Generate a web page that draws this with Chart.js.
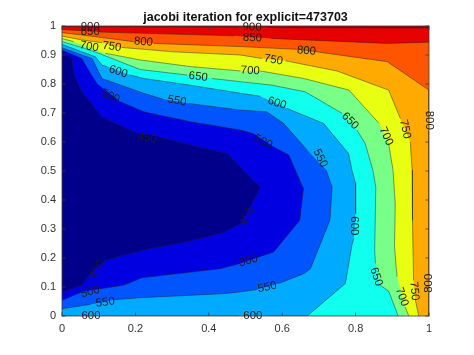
<!DOCTYPE html>
<html>
<head>
<meta charset="utf-8">
<title>jacobi iteration</title>
<script src="https://cdn.jsdelivr.net/npm/chart.js@4/dist/chart.umd.min.js"></script>
<style>
html, body { margin: 0; padding: 0; background: #fff; }
canvas { display: block; }
</style>
</head>
<body>
<canvas id="contourChart" width="474" height="355"></canvas>
<script>
// contour lines as [x, y], null = gap where the label sits
var contour450 = [[0,.906],[.027,.888],[.032,.837],[.054,.773],[.109,.685],[.205,.630],null,[.259,.620],[.331,.595],[.45,.56],[.486,.514],[.54,.443],[.518,.388],null,[.486,.319],[.468,.307],[.44,.288],[.35,.259],[.218,.227],[.114,.19],null,[.077,.146],[.054,.106],[0,.083]];
var contour500 = [[0,.917],[.054,.888],[.077,.838],[.095,.802],null,[.159,.739],[.223,.704],[.35,.67],[.486,.641],[.522,.629],null,[.577,.583],[.618,.555],[.636,.503],[.658,.44],[.648,.33],[.577,.221],[.531,.201],null,[.486,.181],[.431,.163],[.218,.132],[.168,.106],[.104,.094],null,[.054,.083],[0,.054]];
var contour550 = [[0,.925],[.054,.9],[.082,.888],[.109,.819],[.223,.768],[.277,.747],null,[.345,.733],[.486,.71],[.558,.704],[.604,.664],[.668,.572],null,[.72,.503],[.736,.445],[.73,.33],[.677,.163],[.659,.146],[.59,.112],null,[.531,.091],[.486,.083],[.44,.077],[.213,.063],[.141,.056],null,[.077,.04],[0,.025]];
var contour600 = [[0,.937],[.054,.911],[.091,.894],[.109,.865],[.123,.86],null,[.186,.831],[.223,.819],[.35,.796],[.486,.768],[.54,.758],null,[.613,.716],[.713,.664],[.781,.56],[.79,.503],[.8,.457],[.8,.353],null,[.795,.267],[.79,.244],[.772,.112],[.668,0],[.56,0],null,[.48,0],[.11,0],null,[.045,0],[0,0]];
var contour650 = [[0,.946],[.054,.926],[.1,.906],[.213,.85],[.341,.831],null,[.409,.819],[.486,.808],[.572,.796],[.663,.773],[.763,.699],null,[.804,.641],[.826,.595],[.847,.503],[.855,.445],[.852,.227],[.854,.181],null,[.867,.106],[.89,.086],[.916,0]];
var contour700 = [[0,.957],[.032,.946],null,[.118,.906],[.213,.883],[.35,.86],[.486,.845],null,[.54,.845],[.659,.819],[.782,.779],[.864,.664],null,[.89,.595],[.902,.503],[.908,.388],[.906,.238],[.913,.135],null,[.935,.031],[.945,0]];
var contour750 = [[0,.965],[.054,.952],[.109,.942],null,[.163,.926],[.304,.911],[.486,.9],[.545,.888],null,[.609,.88],[.749,.845],[.89,.779],[.922,.681],null,[.949,.601],[.954,.503],[.955,.33],[.958,.123],null,[.963,.054],[.972,0]];
var contour800 = [[0,.977],[.054,.969],[.195,.946],null,[.25,.94],[.486,.929],[.65,.919],[.693,.911],[.886,.877],[1,.779],[1,.71],null,[1,.64],[1,.145],null,[1,.08],[1,0]];
var contour850 = [[0,.988],[.054,.984],null,[.104,.979],[.47,.966],null,[.57,.957],[.885,.94],[1,.944]];
var contour900 = [[0,.998],[.06,.997],null,[.1,.997],[.48,.996],null,[.56,.995],[1,.993]];

var levels = [450, 500, 550, 600, 650, 700, 750, 800, 850, 900];
var contours = [contour450, contour500, contour550, contour600, contour650, contour700, contour750, contour800, contour850, contour900];
var bandColors = ["#00008a", "#0000e0", "#0055ff", "#00aaff", "#10ffee", "#78ff88", "#e8ff12", "#ffaa00", "#ff5500", "#e60000"];
var topBandColor = "#a00000";
var domainSquare = [[0,0],[0,1],[1,1],[1,0]];

var xTickValues = [0, 0.2, 0.4, 0.6, 0.8, 1];
var yTickValues = [0, 0.1, 0.2, 0.3, 0.4, 0.5, 0.6, 0.7, 0.8, 0.9, 1];

// inline contour labels
var labelText = ["900","850","700","750","800","600","650","500","550","450","900","850","800","750","700","600","650","700","750","800","500","550","600","650","700","750","800","500","550","600","450","450","500","550","600"];
var labelX = [.077,.077,.074,.136,.222,.153,.371,.132,.313,.232,.518,.519,.666,.576,.513,.586,.785,.883,.935,1,.548,.704,.796,.856,.926,.96,1,.508,.559,.52,.504,.095,.077,.118,.079];
var labelY = [.998,.979,.929,.929,.945,.842,.825,.758,.742,.614,.996,.959,.914,.883,.846,.734,.672,.62,.644,.675,.601,.544,.311,.135,.066,.086,.113,.19,.099,0,.342,.161,.083,.047,0];
var labelAngle = [0,0,10,8,5,18,7,25,10,10,2,2,5,10,3,18,45,65,78,90,25,62,90,72,70,85,-90,-15,-12,0,-60,-60,-15,-8,0];

function toPoints(line)
{
    return line.map(function (p) {
        return p ? { x: p[0], y: p[1] } : { x: null, y: null };
    });
}

function closeRegion(line)
{
    var pts = line.filter(function (p) { return p; });
    var last = pts[pts.length - 1];
    if (last[0] === 1 && last[1] > 0) pts.push([1, 0]);
    if (last[0] > 0) pts.push([0, 0]);
    return pts;
}

function plainTick(value)
{
    return String(value);
}

var datasets = [];
datasets.push({
    data: toPoints(domainSquare),
    showLine: true,
    fill: "shape",
    backgroundColor: topBandColor,
    borderWidth: 0,
    pointRadius: 0,
    order: 2000
});
for (var i = 0; i < levels.length; i++)
{
    datasets.push({
        data: toPoints(closeRegion(contours[i])),
        showLine: true,
        fill: "shape",
        backgroundColor: bandColors[i],
        borderWidth: 0,
        pointRadius: 0,
        order: levels[i]
    });
    datasets.push({
        data: toPoints(contours[i]),
        showLine: true,
        fill: false,
        spanGaps: false,
        borderColor: "rgba(30,30,30,0.65)",
        borderWidth: 0.7,
        pointRadius: 0,
        order: 0
    });
}

var boxPlugin = {
    id: "boxPlugin",
    afterDatasetsDraw: function (chart) {
        var ctx = chart.ctx;
        var a = chart.chartArea;
        var xs = chart.scales.x;
        var ys = chart.scales.y;
        ctx.save();
        ctx.strokeStyle = "#3a3a3a";
        ctx.lineWidth = 0.8;
        ctx.strokeRect(a.left, a.top, a.right - a.left, a.bottom - a.top);
        ctx.beginPath();
        xTickValues.forEach(function (v) {
            var px = xs.getPixelForValue(v);
            ctx.moveTo(px, a.bottom); ctx.lineTo(px, a.bottom - 3.5);
            ctx.moveTo(px, a.top); ctx.lineTo(px, a.top + 3.5);
        });
        yTickValues.forEach(function (v) {
            var py = ys.getPixelForValue(v);
            ctx.moveTo(a.left, py); ctx.lineTo(a.left + 3.5, py);
            ctx.moveTo(a.right, py); ctx.lineTo(a.right - 3.5, py);
        });
        ctx.stroke();

        ctx.fillStyle = "#1c1c1c";
        ctx.font = "11.4px 'Liberation Sans'";
        ctx.textAlign = "center";
        ctx.textBaseline = "middle";
        labelText.forEach(function (t, k) {
            ctx.save();
            ctx.translate(xs.getPixelForValue(labelX[k]), ys.getPixelForValue(labelY[k]));
            ctx.rotate(labelAngle[k] * Math.PI / 180);
            ctx.fillText(t, 0, 0);
            ctx.restore();
        });
        ctx.restore();
    }
};

new Chart(document.getElementById("contourChart"), {
    type: "scatter",
    data: { datasets: datasets },
    plugins: [boxPlugin],
    options: {
        responsive: false,
        animation: false,
        events: [],
        layout: { padding: { right: 45 } },
        elements: { line: { tension: 0 } },
        plugins: {
            legend: { display: false },
            tooltip: { enabled: false },
            title: {
                display: true,
                fullSize: false,
                text: "jacobi iteration for explicit=473703",
                color: "#111",
                font: { family: "Liberation Sans", size: 12.5, weight: "bold" },
                padding: { top: 10, bottom: 1 }
            }
        },
        scales: {
            x: {
                type: "linear",
                min: 0,
                max: 1,
                afterBuildTicks: function (s) { s.ticks = xTickValues.map(function (v) { return { value: v }; }); },
                afterFit: function (s) { s.height = 39; },
                grid: { display: false },
                border: { display: false },
                ticks: { color: "#333", padding: -2, maxRotation: 0, callback: plainTick, font: { family: "Liberation Sans", size: 11 } }
            },
            y: {
                type: "linear",
                min: 0,
                max: 1,
                afterBuildTicks: function (s) { s.ticks = yTickValues.map(function (v) { return { value: v }; }); },
                afterFit: function (s) { s.width = 62; },
                grid: { display: false },
                border: { display: false },
                ticks: { color: "#333", padding: -2, callback: plainTick, font: { family: "Liberation Sans", size: 11 } }
            }
        }
    }
});
</script>
</body>
</html>
